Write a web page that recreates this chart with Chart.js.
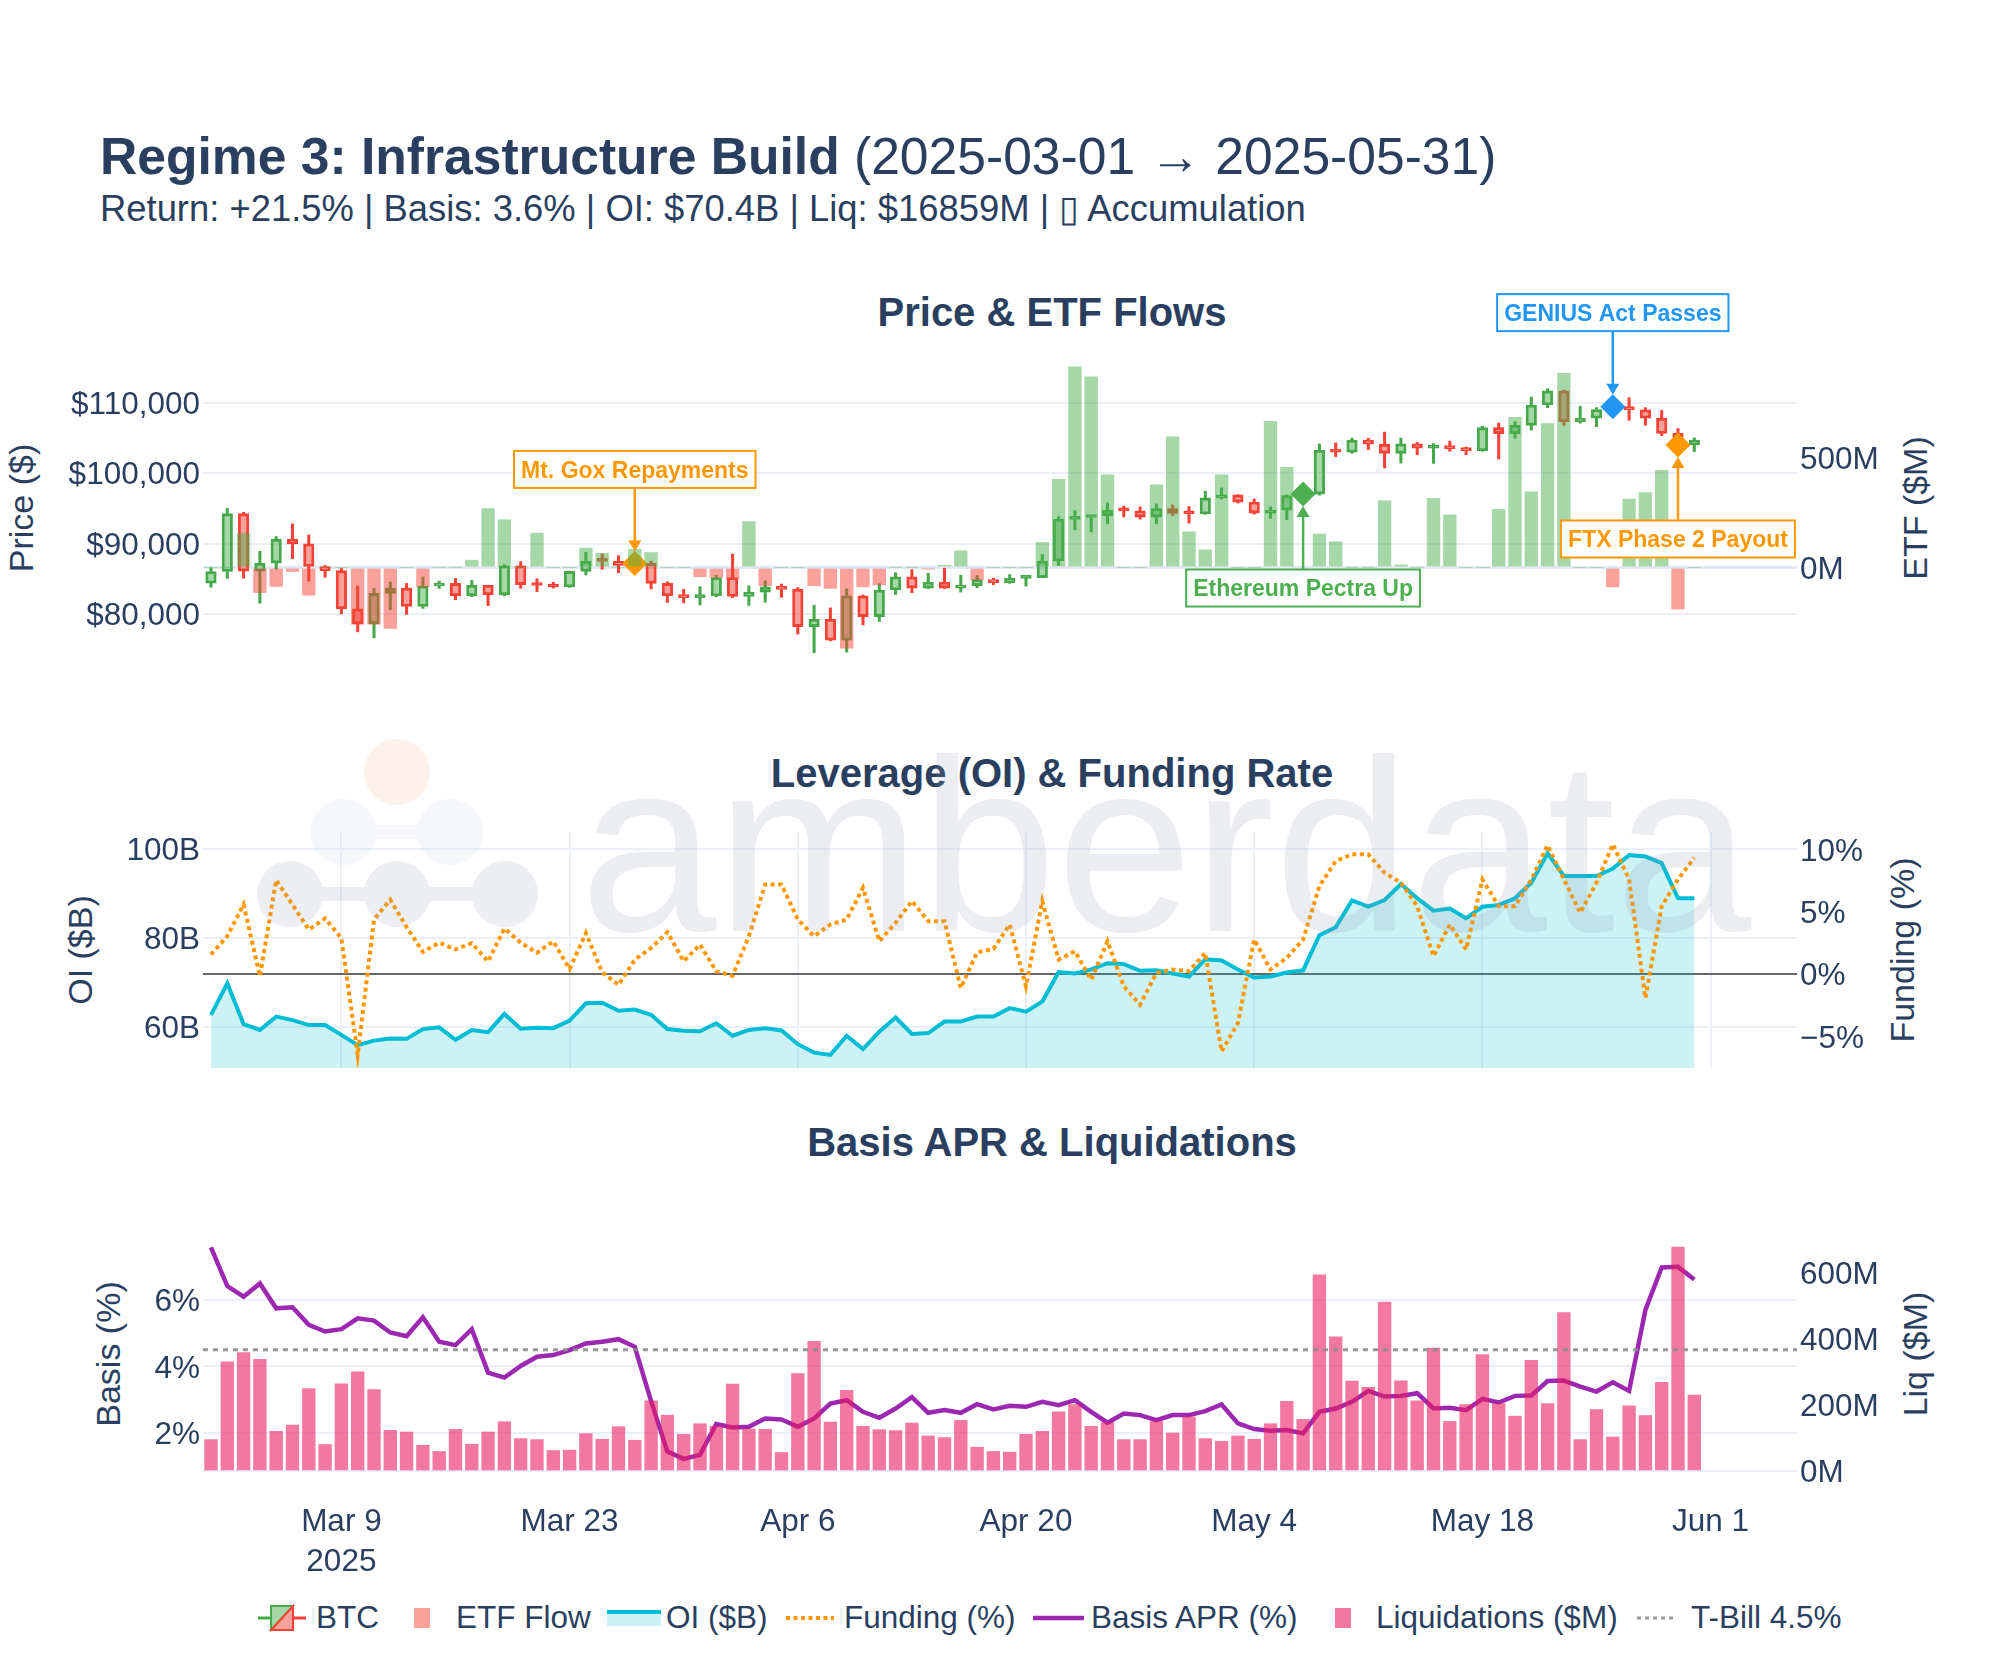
<!DOCTYPE html>
<html>
<head>
<meta charset="utf-8">
<title>Regime 3: Infrastructure Build</title>
<script src="https://cdn.jsdelivr.net/npm/chart.js@4.4.1/dist/chart.umd.min.js"></script>
<style>
  html, body { margin: 0; padding: 0; background: #fff; }
  #page { position: relative; width: 1999px; height: 1667px; overflow: hidden; background: #fff;
          font-family: "Liberation Sans", Arial, sans-serif; color: #2a3f5f; }
  #page canvas { position: absolute; left: 0; }
  .t { position: absolute; white-space: nowrap; line-height: 1; }
  .c { transform: translate(-50%, -50%); }
  .v { transform: translate(-50%, -50%) rotate(-90deg); }
  .m { transform: translateY(-50%); }
  .lgi { position: absolute; }
  #wm { position: absolute; left: 0; top: 0; z-index: 5; pointer-events: none; }
</style>
</head>
<body>
<div id="page">
  <div class="t m" style="left:100px;top:157px;font-size:51.6px;"><b>Regime 3: Infrastructure Build</b> (2025-03-01 → 2025-05-31)</div>
  <div class="t m" style="left:100px;top:209px;font-size:36.4px;">Return: +21.5% | Basis: 3.6% | OI: $70.4B | Liq: $16859M | ▯ Accumulation</div>

  <div class="t c" style="left:1052px;top:312px;font-size:40px;font-weight:bold;">Price &amp; ETF Flows</div>
  <div class="t c" style="left:1052px;top:773px;font-size:40px;font-weight:bold;">Leverage (OI) &amp; Funding Rate</div>
  <div class="t c" style="left:1052px;top:1142px;font-size:40px;font-weight:bold;">Basis APR &amp; Liquidations</div>

  <div class="t v" style="left:21px;top:508px;font-size:34px;">Price ($)</div>
  <div class="t v" style="left:1915px;top:508px;font-size:34px;">ETF ($M)</div>
  <div class="t v" style="left:80px;top:950px;font-size:34px;">OI ($B)</div>
  <div class="t v" style="left:1902px;top:950px;font-size:34px;">Funding (%)</div>
  <div class="t v" style="left:108px;top:1354px;font-size:34px;">Basis (%)</div>
  <div class="t v" style="left:1915px;top:1354px;font-size:34px;">Liq ($M)</div>

  <!-- legend -->
  <svg class="lgi" style="left:256px;top:1603px;" width="52" height="30">
    <line x1="2" y1="15" x2="15" y2="15" stroke="#45A84A" stroke-width="3"/>
    <line x1="37" y1="15" x2="50" y2="15" stroke="#F44336" stroke-width="3"/>
    <polygon points="15,3 37,3 15,27" fill="rgba(76,175,80,0.5)" stroke="#45A84A" stroke-width="2"/>
    <polygon points="37,3 37,27 15,27" fill="rgba(244,67,54,0.5)" stroke="#F44336" stroke-width="2"/>
  </svg>
  <div class="t m" style="left:316px;top:1618px;font-size:31.5px;">BTC</div>
  <div class="lgi" style="left:414px;top:1608px;width:16px;height:20px;background:rgba(244,67,54,0.5);"></div>
  <div class="t m" style="left:456px;top:1618px;font-size:31.5px;">ETF Flow</div>
  <svg class="lgi" style="left:607px;top:1604px;" width="54" height="26">
    <rect x="0" y="8" width="54" height="14" fill="rgba(0,188,212,0.2)"/>
    <line x1="0" y1="8" x2="54" y2="8" stroke="#00BCD4" stroke-width="4"/>
  </svg>
  <div class="t m" style="left:666px;top:1618px;font-size:31.5px;">OI ($B)</div>
  <svg class="lgi" style="left:786px;top:1608px;" width="48" height="20">
    <line x1="0" y1="10" x2="48" y2="10" stroke="#FF9800" stroke-width="4" stroke-dasharray="4 3.5"/>
  </svg>
  <div class="t m" style="left:844px;top:1618px;font-size:31.5px;">Funding (%)</div>
  <svg class="lgi" style="left:1033px;top:1608px;" width="51" height="20">
    <line x1="0" y1="10" x2="51" y2="10" stroke="#9C27B0" stroke-width="4.5"/>
  </svg>
  <div class="t m" style="left:1091px;top:1618px;font-size:31.5px;">Basis APR (%)</div>
  <div class="lgi" style="left:1335px;top:1608px;width:16px;height:20px;background:rgba(233,30,99,0.6);"></div>
  <div class="t m" style="left:1376px;top:1618px;font-size:31.5px;">Liquidations ($M)</div>
  <svg class="lgi" style="left:1637px;top:1608px;" width="40" height="20">
    <line x1="0" y1="10" x2="40" y2="10" stroke="#999" stroke-width="3" stroke-dasharray="4 4"/>
  </svg>
  <div class="t m" style="left:1691px;top:1618px;font-size:31.5px;">T-Bill 4.5%</div>

  <!-- watermark -->
  <svg id="wm" width="1999" height="1667">
    <g opacity="0.13" fill="rgb(250,150,100)"><circle cx="397" cy="772" r="33"/></g>
    <g opacity="0.16" fill="rgb(190,205,225)">
      <circle cx="343" cy="832" r="33"/><circle cx="450" cy="832" r="33"/>
      <rect x="343" y="825" width="107" height="14"/>
    </g>
    <g opacity="0.18" fill="rgb(150,158,182)">
      <circle cx="290" cy="894" r="33"/><circle cx="397" cy="894" r="33"/><circle cx="505" cy="894" r="33"/>
      <rect x="290" y="887" width="215" height="14"/>
    </g>
    <text x="580" y="931" font-family="Liberation Sans, Arial, sans-serif" font-size="245" fill="rgb(150,158,182)" opacity="0.19">amberdata</text>
  </svg>
</div>

<script>
// ---------------- DATA ----------------
const dates = [
 '2025-03-01','2025-03-02','2025-03-03','2025-03-04','2025-03-05','2025-03-06','2025-03-07','2025-03-08','2025-03-09','2025-03-10',
 '2025-03-11','2025-03-12','2025-03-13','2025-03-14','2025-03-15','2025-03-16','2025-03-17','2025-03-18','2025-03-19','2025-03-20',
 '2025-03-21','2025-03-22','2025-03-23','2025-03-24','2025-03-25','2025-03-26','2025-03-27','2025-03-28','2025-03-29','2025-03-30',
 '2025-03-31','2025-04-01','2025-04-02','2025-04-03','2025-04-04','2025-04-05','2025-04-06','2025-04-07','2025-04-08','2025-04-09',
 '2025-04-10','2025-04-11','2025-04-12','2025-04-13','2025-04-14','2025-04-15','2025-04-16','2025-04-17','2025-04-18','2025-04-19',
 '2025-04-20','2025-04-21','2025-04-22','2025-04-23','2025-04-24','2025-04-25','2025-04-26','2025-04-27','2025-04-28','2025-04-29',
 '2025-04-30','2025-05-01','2025-05-02','2025-05-03','2025-05-04','2025-05-05','2025-05-06','2025-05-07','2025-05-08','2025-05-09',
 '2025-05-10','2025-05-11','2025-05-12','2025-05-13','2025-05-14','2025-05-15','2025-05-16','2025-05-17','2025-05-18','2025-05-19',
 '2025-05-20','2025-05-21','2025-05-22','2025-05-23','2025-05-24','2025-05-25','2025-05-26','2025-05-27','2025-05-28','2025-05-29',
 '2025-05-30','2025-05-31'];

const open = [84370,86030,94250,86070,87220,90620,89960,86740,86150,80730,
  78600,82930,83680,81070,83970,84340,82580,84080,82720,86850,
  84170,84040,83830,86050,87500,87470,86900,87180,84350,82600,
  82330,82550,85170,82490,83100,83840,83500,78210,79240,76270,
  82570,79630,83400,85290,83680,84540,83670,84030,84900,84450,
  85060,85170,87520,93440,93700,93940,94720,94650,93750,94980,
  94280,94210,96490,96910,95890,94320,94750,96800,97030,103240,
  102970,104700,104110,102810,104170,103540,103740,103490,103190,106450,
  105610,106790,109680,111670,107290,107790,109040,109440,108990,107800,
  105640,104000];
const high = [86560,95000,94430,88910,91000,92800,91220,86900,86470,83960,
  83620,84540,84340,85260,84670,85050,84760,84080,87020,87440,
  85000,84510,86090,88770,88540,88290,87790,87520,84570,83510,
  83870,85490,88500,84000,84720,84250,83750,81240,80870,83590,
  82700,84300,85860,86300,85790,86500,85500,85470,85090,85600,
  85320,88460,93820,94700,94000,95770,95320,95200,95630,95470,
  95250,97440,97900,96940,96320,95200,96920,97630,104150,104300,
  104980,104940,105820,104980,104360,104190,104550,103710,106660,107110,
  107320,110800,111980,111800,109500,109300,110420,110720,109300,108900,
  106330,105000];
const low = [83800,85050,85080,81530,86380,87850,84670,85220,80000,77460,
  76610,80610,79940,80800,83640,82020,82460,81180,82570,83650,
  83180,83670,83790,85540,86350,85860,85840,83560,81630,81570,
  81290,82430,82320,81210,81660,82370,77150,74510,76200,74590,
  78460,78940,82770,83030,83600,83600,83110,83740,84160,84350,
  83950,85140,86890,91940,91660,92800,93780,93470,92800,93980,
  92910,94150,96350,95750,94170,93570,93380,95800,96880,102340,
  102820,103350,100720,101430,102600,101380,103100,102610,103110,102000,
  104970,106100,109290,106800,107100,106600,108670,107500,106810,105320,
  103620,103070];
const close = [86030,94250,86070,87220,90620,89960,86740,86150,80730,78600,
  82930,83680,81070,83970,84340,82580,84080,82720,86850,84170,
  84040,83830,86050,87500,87470,86900,87180,84350,82600,82330,
  82550,85170,82490,83100,83840,83500,78210,79240,76270,82570,
  79630,83400,85290,83680,84540,83670,84030,84900,84450,85060,
  85170,87520,93440,93700,93940,94720,94650,93750,94980,94280,
  94210,96490,96910,95890,94320,94750,96800,97030,103240,102970,
  104700,104110,102810,104170,103540,103740,103490,103190,106450,105610,
  106790,109680,111670,107290,107790,109040,109440,108990,107800,105640,
  104000,104640];

// ETF net flows ($M)
const etfFlow = [0,0,155,-114,-86,-18,-126,0,0,-258,
  -258,-277,0,-88,0,0,33,268,217,0,
  156,0,0,88,65,0,83,68,0,0,
  -42,-45,-53,209,-83,0,0,-83,-95,-367,
  -88,-79,0,0,-8,10,76,-56,0,0,
  0,114,401,912,867,421,0,0,376,594,
  162,80,421,0,0,664,455,-80,152,117,
  0,0,303,12,0,314,239,0,0,264,
  682,344,654,882,0,0,-88,311,341,442,
  -189,0];

// Open interest ($B)
const openInterest = [62.8,69.9,60.7,59.4,62.4,61.6,60.5,60.5,58.3,56.0,
  57.0,57.5,57.4,59.6,60.0,57.2,59.4,58.9,63.0,59.7,
  59.9,59.8,61.5,65.4,65.5,63.7,64.0,62.8,59.6,59.2,
  59.1,60.9,58.1,59.4,59.8,59.3,56.2,54.3,53.8,58.1,
  55.1,59.0,62.2,58.5,58.7,61.3,61.3,62.4,62.4,64.3,
  63.5,65.8,72.4,72.1,73.0,74.4,74.2,72.7,72.8,72.1,
  71.4,75.3,75.0,73.0,71.2,71.4,72.3,72.8,80.7,82.5,
  88.5,87.1,88.6,92.2,89.0,86.2,86.7,84.5,87.1,87.5,
  89.0,92.5,99.1,94.0,94.0,94.0,95.7,98.7,98.4,96.9,
  89.0,89.0];

// Funding rate (%)
const funding = [1.59,3.06,5.62,-0.16,7.58,5.6,3.6,4.5,2.9,-6.48,
  4.41,6.0,3.8,1.8,2.55,2.0,2.5,1.03,3.68,2.54,
  1.73,2.64,0.43,3.32,0.16,-0.85,1.18,2.12,3.39,1.05,
  2.39,0.24,-0.11,3.06,7.23,7.23,4.41,3.06,4.01,4.41,
  6.96,2.66,4.14,5.89,4.27,4.27,-1.10,1.77,2.04,4.01,
  -0.97,5.89,1.18,1.85,-0.43,2.66,-0.97,-2.45,0.11,0.38,
  0.24,1.72,-6.21,-3.92,2.80,0.38,1.32,2.80,7.10,9.11,
  9.65,9.65,8.17,7.37,5.48,1.45,4.01,1.99,7.63,5.48,
  5.48,7.63,10.38,7.63,4.95,7.37,10.46,7.63,-1.91,5.48,
  7.63,9.38];

// Basis APR (%)
const basisApr = [7.59,6.42,6.10,6.50,5.75,5.78,5.25,5.05,5.12,5.45,
  5.38,5.02,4.91,5.48,4.74,4.64,5.12,3.81,3.66,4.01,
  4.29,4.34,4.49,4.69,4.74,4.82,4.59,2.95,1.43,1.21,
  1.33,2.26,2.16,2.18,2.43,2.40,2.18,2.43,2.88,2.98,
  2.63,2.45,2.73,3.07,2.60,2.68,2.60,2.86,2.70,2.81,
  2.78,2.93,2.83,2.98,2.63,2.30,2.58,2.53,2.38,2.53,
  2.53,2.65,2.85,2.28,2.11,2.06,2.08,1.98,2.63,2.73,
  2.93,3.26,3.09,3.11,3.19,2.73,2.75,2.68,3.02,2.91,
  3.11,3.12,3.56,3.57,3.39,3.24,3.52,3.26,5.70,6.98,
  7.00,6.62];

// Liquidations ($M)
const liquidations = [95,330,358,338,120,139,249,80,264,300,
  246,123,118,78,59,126,81,118,149,98,
  95,62,63,113,96,134,93,212,169,111,
  143,135,263,127,126,56,295,392,148,244,
  135,125,122,145,106,101,153,72,59,57,
  111,120,179,201,135,146,95,95,150,115,
  164,98,90,106,96,143,211,156,593,406,
  272,253,511,273,212,372,150,201,352,204,
  166,335,204,479,95,186,103,197,168,268,
  677,230];

const tbillRate = 4.5;

const eventLabels = ['Mt. Gox Repayments', 'Ethereum Pectra Up', 'GENIUS Act Passes', 'FTX Phase 2 Payout'];
const eventDays = [26, 67, 86, 90];

const xTickDays = [8, 22, 36, 50, 64, 78, 92];
const xTickLabels = [['Mar 9', '2025'], 'Mar 23', 'Apr 6', 'Apr 20', 'May 4', 'May 18', 'Jun 1'];
const priceTicks = [80000, 90000, 100000, 110000];
const etfTicks = [0, 500];
const oiTicks = [60, 80, 100];
const fundingTicks = [-5, 0, 5, 10];
const basisTicks = [2, 4, 6];
const liqTicks = [0, 200, 400, 600];

// ---------------- STYLE / LAYOUT ----------------
const FONT = '"Liberation Sans", Arial, sans-serif';
const TEXT = '#2a3f5f';
const GRID = '#EBF0F8';
const INC = '#45A84A', DEC = '#F44336';
const INC_FILL = 'rgba(76,175,80,0.5)', DEC_FILL = 'rgba(244,67,54,0.5)';
const EVENT_STYLE = [
  { color: '#FF9800', dy: -94 },
  { color: '#4CAF50', dy: 94 },
  { color: '#2196F3', dy: -94 },
  { color: '#FF9800', dy: 94 }
];
const X_MIN = -0.49, X_MAX = 97.3;
const TICK_FONT = 31.5;
const Y_LABEL_SHIFT = 2.5;

Chart.defaults.font.family = FONT;
Chart.defaults.color = TEXT;

const page = document.getElementById('page');
function makeCanvas(top, height) {
  const c = document.createElement('canvas');
  c.width = 1999; c.height = height;
  c.style.top = top + 'px';
  c.style.width = '1999px'; c.style.height = height + 'px';
  page.insertBefore(c, document.getElementById('wm'));
  return c;
}

function xScale(kind) {
  return {
    type: 'linear', axis: 'x', position: 'bottom', min: X_MIN, max: X_MAX, offset: false, bounds: 'data',
    display: kind !== 'hidden',
    afterBuildTicks: s => { s.ticks = xTickDays.map(v => ({ value: v })); },
    afterFit: s => { s.paddingLeft = 0; s.paddingRight = 0; s.height = kind === 'labels' ? 129 : 0; },
    grid: { display: kind === 'grid', color: GRID, lineWidth: 2, drawTicks: false },
    border: { display: false },
    ticks: {
      display: kind === 'labels', padding: 31, autoSkip: false, maxRotation: 0, color: TEXT,
      font: { size: TICK_FONT, lineHeight: 1.27 },
      callback: v => { const k = xTickDays.indexOf(v); return k >= 0 ? xTickLabels[k] : ''; }
    }
  };
}

function yScale(position, min, max, ticks, fmt, gridColor, gridWidth) {
  return {
    type: 'linear', axis: 'y', position, min, max, bounds: 'data',
    afterBuildTicks: s => { s.ticks = ticks.map(v => ({ value: v })); },
    afterFit: s => { s.width = position === 'left' ? 203 : 202; s.paddingTop = 0; s.paddingBottom = 0; },
    grid: { display: true, drawTicks: false, color: gridColor, lineWidth: gridWidth },
    border: { display: false },
    ticks: { padding: 3, labelOffset: Y_LABEL_SHIFT, autoSkip: false, color: TEXT, font: { size: TICK_FONT }, callback: fmt }
  };
}

const baseOptions = {
  responsive: false, animation: false, devicePixelRatio: 1, events: [],
  plugins: { legend: { display: false }, tooltip: { enabled: false } }
};

const idx = dates.map((_, i) => i);
const isUp = i => close[i] >= open[i];

// ---------------- ANNOTATIONS PLUGIN ----------------
const eventPlugin = {
  id: 'eventAnnotations',
  afterDatasetsDraw(chart) {
    const ctx = chart.ctx, xs = chart.scales.x, ys = chart.scales.yPrice;
    ctx.save();
    ctx.font = 'bold 23px ' + FONT;
    ctx.textAlign = 'center';
    ctx.textBaseline = 'middle';
    eventDays.forEach((d, k) => {
      const st = EVENT_STYLE[k];
      const px = xs.getPixelForValue(d);
      const py = ys.getPixelForValue(close[d]);
      const cy = py + st.dy;
      const w = ctx.measureText(eventLabels[k]).width + 14;
      const h = 37;
      const s = st.dy < 0 ? 1 : -1;
      const yStart = cy + s * h / 2;
      const yTip = py - s * 12;
      ctx.strokeStyle = st.color; ctx.fillStyle = st.color; ctx.lineWidth = 2.5;
      ctx.beginPath(); ctx.moveTo(px, yStart); ctx.lineTo(px, yTip - s * 9); ctx.stroke();
      ctx.beginPath(); ctx.moveTo(px, yTip); ctx.lineTo(px - 6.5, yTip - s * 11); ctx.lineTo(px + 6.5, yTip - s * 11); ctx.closePath(); ctx.fill();
      ctx.fillStyle = '#fff';
      ctx.fillRect(px - w / 2, cy - h / 2, w, h);
      ctx.lineWidth = 2;
      ctx.strokeRect(px - w / 2, cy - h / 2, w, h);
      ctx.fillStyle = st.color;
      ctx.fillText(eventLabels[k], px, cy + 2);
    });
    ctx.restore();
  }
};

// ---------------- CHART 1: PRICE & ETF ----------------
new Chart(makeCanvas(280, 440), {
  type: 'bar',
  data: {
    datasets: [
      { label: 'ETF Flow', yAxisID: 'yEtf', xAxisID: 'x', order: 0, grouped: false, barThickness: 12.7,
        data: idx.map(i => ({ x: i, y: etfFlow[i] })),
        backgroundColor: c => (etfFlow[c.dataIndex] >= 0 ? 'rgba(76,175,80,0.5)' : 'rgba(244,67,54,0.5)'), borderWidth: 0 },
      { type: 'scatter', label: 'Events', yAxisID: 'yPrice', xAxisID: 'x', order: 1,
        data: eventDays.map(d => ({ x: d, y: close[d] })),
        pointStyle: 'rectRot', pointRadius: 12.5, pointBorderWidth: 0,
        pointBackgroundColor: EVENT_STYLE.map(s => s.color) },
      { label: 'BTC body', yAxisID: 'yPrice', xAxisID: 'x', order: 2, grouped: false, barThickness: 10.5, minBarLength: 3,
        data: idx.map(i => ({ x: i, y: [open[i], close[i]] })),
        backgroundColor: c => (isUp(c.dataIndex) ? INC_FILL : DEC_FILL),
        borderColor: c => (isUp(c.dataIndex) ? INC : DEC), borderWidth: 2.2, borderSkipped: false },
      { label: 'BTC upper wick', yAxisID: 'yPrice', xAxisID: 'x', order: 3, grouped: false, barThickness: 2.4,
        data: idx.map(i => ({ x: i, y: [Math.max(open[i], close[i]), high[i]] })),
        backgroundColor: c => (isUp(c.dataIndex) ? INC : DEC), borderWidth: 0 },
      { label: 'BTC lower wick', yAxisID: 'yPrice', xAxisID: 'x', order: 3, grouped: false, barThickness: 2.4,
        data: idx.map(i => ({ x: i, y: [low[i], Math.min(open[i], close[i])] })),
        backgroundColor: c => (isUp(c.dataIndex) ? INC : DEC), borderWidth: 0 }
    ]
  },
  options: Object.assign({}, baseOptions, {
    layout: { padding: { top: 72, bottom: 54, left: 0, right: 0 } },
    scales: {
      x: xScale('hidden'),
      yPrice: yScale('left', 72615, 117199, priceTicks, v => '$' + v.toLocaleString('en-US'), GRID, 2),
      yEtf: yScale('right', -447.7, 979.5, etfTicks, v => v + 'M',
        c => (c.tick && c.tick.value === 0 ? '#E2E8F1' : 'rgba(0,0,0,0)'), 3)
    }
  }),
  plugins: [eventPlugin]
});

// ---------------- CHART 2: OI & FUNDING ----------------
new Chart(makeCanvas(800, 300), {
  type: 'line',
  data: {
    datasets: [
      { label: 'Funding (%)', yAxisID: 'yFund', xAxisID: 'x', order: 0,
        data: idx.map(i => ({ x: i, y: funding[i] })),
        borderColor: '#FF9800', borderWidth: 4, borderDash: [4, 3.5], pointRadius: 0, fill: false, tension: 0 },
      { label: 'OI ($B)', yAxisID: 'yOI', xAxisID: 'x', order: 1,
        data: idx.map(i => ({ x: i, y: openInterest[i] })),
        borderColor: '#00BCD4', borderWidth: 4, pointRadius: 0, fill: 'start',
        backgroundColor: 'rgba(0,188,212,0.2)', tension: 0 }
    ]
  },
  options: Object.assign({}, baseOptions, {
    layout: { padding: { top: 32, bottom: 32, left: 0, right: 0 } },
    scales: {
      x: xScale('grid'),
      yOI: yScale('left', 50.85, 103.89, oiTicks, v => v + 'B', GRID, 2),
      yFund: yScale('right', -7.54, 11.45, fundingTicks, v => (v < 0 ? '\u2212' + Math.abs(v) : v) + '%',
        c => (c.tick && c.tick.value === 0 ? 'rgba(85,85,85,0.9)' : 'rgba(0,0,0,0)'), 2)
    }
  })
});

// ---------------- CHART 3: BASIS & LIQUIDATIONS ----------------
new Chart(makeCanvas(1200, 400), {
  type: 'bar',
  data: {
    datasets: [
      { type: 'line', label: 'T-Bill 4.5%', yAxisID: 'yBasis', xAxisID: 'x', order: 0,
        data: [{ x: X_MIN, y: tbillRate }, { x: X_MAX, y: tbillRate }],
        borderColor: 'rgba(140,140,140,0.9)', borderWidth: 3, borderDash: [5, 5], pointRadius: 0, fill: false },
      { label: 'Liquidations ($M)', yAxisID: 'yLiq', xAxisID: 'x', order: 1, grouped: false, barThickness: 12.7,
        data: idx.map(i => ({ x: i, y: liquidations[i] })),
        backgroundColor: 'rgba(233,30,99,0.6)', borderWidth: 0 },
      { type: 'line', label: 'Basis APR (%)', yAxisID: 'yBasis', xAxisID: 'x', order: 2,
        data: idx.map(i => ({ x: i, y: basisApr[i] })),
        borderColor: '#9C27B0', borderWidth: 4.5, pointRadius: 0, fill: false, tension: 0 }
    ]
  },
  options: Object.assign({}, baseOptions, {
    layout: { padding: { top: 37, bottom: 0, left: 0, right: 0 } },
    scales: {
      x: xScale('labels'),
      yBasis: yScale('left', 0.845, 7.90, basisTicks, v => v + '%', GRID, 2),
      yLiq: yScale('right', 0, 707.8, liqTicks, v => v + 'M',
        c => (c.tick && c.tick.value === 0 ? GRID : 'rgba(0,0,0,0)'), 2)
    }
  })
});
</script>
</body>
</html>
